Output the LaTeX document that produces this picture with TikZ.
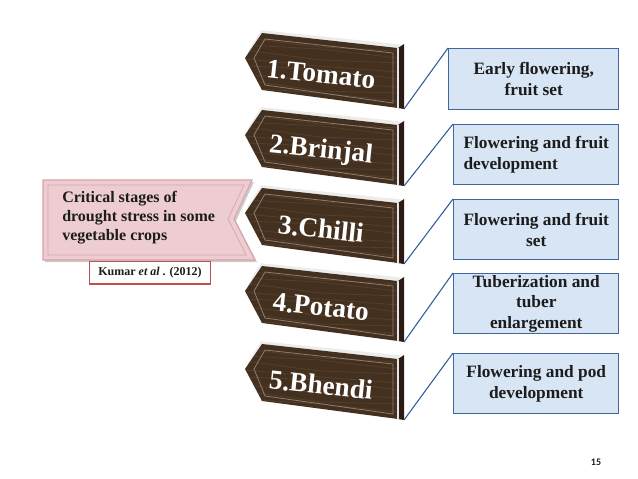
\documentclass[tikz,border=0pt]{standalone}
\usepackage{fontspec}
\setmainfont{Liberation Serif}
\newfontfamily\pagefont{Carlito}
\usepackage{tikz}
\usetikzlibrary{positioning,calc}
\definecolor{ink}{HTML}{1C1C1C}
\definecolor{woodA}{HTML}{43301F}
\definecolor{woodB}{HTML}{5E4633}
\definecolor{woodside}{HTML}{2A1C14}
\definecolor{boxfill}{HTML}{D7E5F4}
\definecolor{boxedge}{HTML}{41679E}
\definecolor{linkblue}{HTML}{2F5C9A}
\definecolor{pinkfill}{HTML}{EDCDD1}
\definecolor{pinkedge}{HTML}{D4A5AB}
\definecolor{kumared}{HTML}{C0504D}

\begin{document}
\begin{tikzpicture}[x=0.75pt,y=-0.75pt,
    infobox/.style={draw=boxedge, fill=boxfill, line width=1.1pt, inner sep=0pt,
      minimum width=123.75pt, minimum height=45pt, anchor=north west, text=ink,
      font=\bfseries\fontsize{13}{15.5}\selectfont, align=center},
    link/.style={draw=linkblue, line width=0.8pt},
    signtext/.style={text=white, font=\bfseries\fontsize{20.5}{24}\selectfont, rotate=-6},
    woodgrain/.style={draw=woodB, line width=0.7pt, opacity=0.6},
    woodline/.style={draw=woodB!70!white, line width=0.6pt}
  ]
  \useasboundingbox (0,0) rectangle (638,478);

  % stage boxes
  \node[infobox, minimum width=127.5pt, minimum height=45.75pt] (b1) at (448,48) {Early flowering,\\ fruit set};
  \node[infobox, align=left] (b2) at (453,124) {Flowering and fruit\\ development};
  \node[infobox] (b3) at (453,199) {Flowering and fruit\\ set};
  \node[infobox] (b4) at (453,273) {Tuberization and\\ tuber\\ enlargement};
  \node[infobox] (b5) at (453,353) {Flowering and pod\\ development};

  % title banner
  \fill[gray!40] (45,182) -- (254,182) -- (236,221) -- (257,262) -- (45,262) -- cycle;
  \draw[pinkedge, fill=pinkfill, line width=0.8pt] (43,180) -- (252,180) -- (234,219) -- (255,260) -- (43,260) -- cycle;
  \draw[pinkedge, line width=0.5pt] (48,185) -- (244,185) -- (228,219) -- (246,255) -- (48,255) -- cycle;
  \node[anchor=west, align=left, inner sep=0pt, text=ink,
        font=\bfseries\fontsize{12}{14.3}\selectfont] (crit) at (62,218)
        {Critical stages of\\ drought stress in some\\ vegetable crops};
  \node[draw=kumared, line width=1pt, fill=white, minimum width=91pt, minimum height=17pt,
        inner sep=0pt, text=ink, font=\bfseries\fontsize{9}{11}\selectfont] (ref) at (150,272.5)
        {Kumar \textit{et al} . (2012)};

  % wooden signs
  \foreach \y/\name/\i in {33/1.Tomato/1, 110/2.Brinjal/2, 188/3.Chilli/3, 266/4.Potato/4, 344/5.Bhendi/5} {
    \draw[white!85!gray, line width=2.5pt, line cap=round] (249,\y+20) -- (262,\y-1) -- (400,\y+13);
    \begin{scope}
      \clip (245,\y+25) -- (262,\y) -- (398,\y+15) -- (398,\y+75) -- (262,\y+57) -- cycle;
      \fill[woodA] (240,\y-5) rectangle (400,\y+80);
      \foreach \g/\d in {5/3, 12/-2, 17/4, 26/1, 33/-3, 41/2, 47/5, 55/-1, 63/3, 70/0} \draw[woodgrain] (245,\y+\g) -- (320,\y+\g+6+\d) -- (398,\y+\g+13);
    \end{scope}
    \draw[woodline] (254,\y+25) -- (265,\y+6) -- (393,\y+20) -- (393,\y+70) -- (265,\y+52) -- cycle;
    \fill[woodside] (398,\y+15) -- (404,\y+11) -- (404,\y+76) -- (398,\y+75) -- cycle;
    \draw[white!80!gray, line width=0.8pt] (398,\y+15) -- (398,\y+75);
    \coordinate (c\i) at (404,\y+76);
    \node[signtext] (s\i) at (321,\y+41) {\name};
    \draw[link] (c\i) -- (b\i.north west);
  }

  \node[text=ink, font=\pagefont\bfseries\fontsize{7.5}{9}\selectfont] (page) at (596,462) {15};
\end{tikzpicture}
\end{document}
